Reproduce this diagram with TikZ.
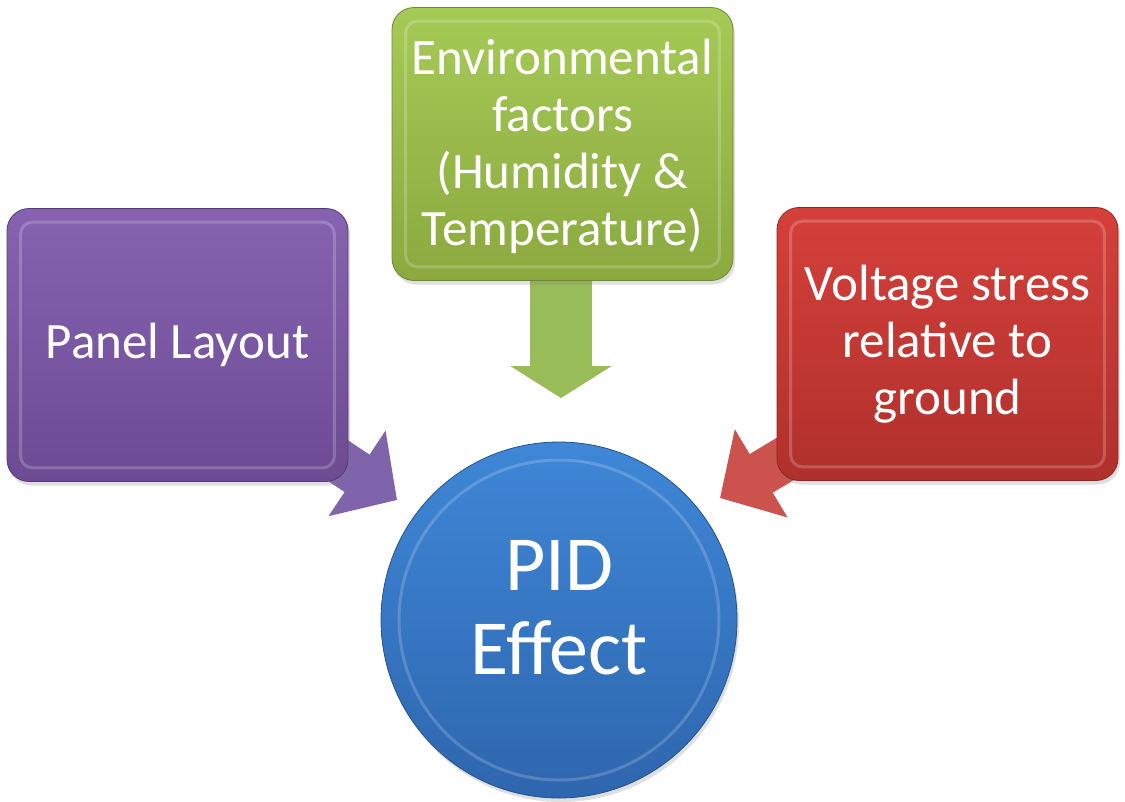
\documentclass[tikz,border=0pt]{standalone}
\usepackage{fontspec}
\setmainfont{Carlito}
\usetikzlibrary{arrows.meta,shadows}
\definecolor{purTop}{HTML}{8663B0}
\definecolor{purBot}{HTML}{6C4B93}
\definecolor{purArr}{HTML}{7F63AB}
\definecolor{grnTop}{HTML}{A6CA56}
\definecolor{grnBot}{HTML}{8BA93F}
\definecolor{grnArr}{HTML}{97BC58}
\definecolor{redTop}{HTML}{D5403B}
\definecolor{redBot}{HTML}{B0302C}
\definecolor{redArr}{HTML}{CB524D}
\definecolor{bluTop}{HTML}{3F87D7}
\definecolor{bluBot}{HTML}{2E66AE}
\tikzset{
  card/.style={rounded corners=22pt, minimum width=341pt, minimum height=273pt,
    inner sep=0pt, align=center, text=white,
    drop shadow={shadow xshift=2pt, shadow yshift=-4pt, opacity=0.25}},
  cardtext/.style={text=white, font=\fontsize{51}{57}\selectfont, align=center, inner sep=0pt},
  bevel/.style={rounded corners=12pt, draw=white, draw opacity=0.2, line width=3pt},
  blockarrow/.style={line width=#1, line cap=butt},
}
\begin{document}
\begin{tikzpicture}[x=1pt,y=-1pt]
\useasboundingbox (0,0) rectangle (1125,801);
% anchor coordinates for the arrows
\coordinate (layTail) at (190,362);
\coordinate (layTip) at (397,500);
\coordinate (envTail) at (561,200);
\coordinate (envTip) at (561,398);
\coordinate (volTail) at (934,370);
\coordinate (volTip) at (720,498);
% arrows (behind boxes)
\draw[purArr, blockarrow=45pt, -{Triangle[width=100pt,length=48pt]}] (layTail) -- (layTip);
\draw[grnArr, blockarrow=62pt, -{Triangle[width=100pt,length=32pt]}] (envTail) -- (envTip);
\draw[redArr, blockarrow=45pt, -{Triangle[width=100pt,length=48pt]}] (volTail) -- (volTip);
% boxes
\node[card, top color=purTop, bottom color=purBot, draw=purBot!80!black, line width=0.8pt] (lay) at (177.5,345) {};
\draw[bevel] ([shift={(14pt,-14pt)}]lay.north west) rectangle ([shift={(-14pt,14pt)}]lay.south east);
\node[cardtext] (layText) at (lay.center) {Panel Layout};

\node[card, top color=grnTop, bottom color=grnBot, draw=grnBot!80!black, line width=0.8pt] (env) at (562.5,144) {};
\draw[bevel] ([shift={(14pt,-14pt)}]env.north west) rectangle ([shift={(-14pt,14pt)}]env.south east);
\node[cardtext] (envText) at ([yshift=-2pt]env.center) {Environmental\\factors\\(Humidity \&\\Temperature)};

\node[card, top color=redTop, bottom color=redBot, draw=redBot!80!black, line width=0.8pt] (volt) at (947.5,344) {};
\draw[bevel] ([shift={(14pt,-14pt)}]volt.north west) rectangle ([shift={(-14pt,14pt)}]volt.south east);
\node[cardtext] (voltText) at (volt.center) {Voltage stress\\relative to\\ground};

% circle
\node[circle, minimum size=356pt, inner sep=0pt, top color=bluTop, bottom color=bluBot,
  draw=bluBot!80!black, line width=0.8pt,
  drop shadow={shadow xshift=2pt, shadow yshift=-4pt, opacity=0.25}] (pid) at (559,620) {};
\draw[white, draw opacity=0.18, line width=3pt] (pid.center) circle[radius=160pt];
\node[text=white, font=\fontsize{78}{84}\selectfont, align=center] (pidText) at ([yshift=12pt]pid.center) {PID\\Effect};
\end{tikzpicture}
\end{document}
